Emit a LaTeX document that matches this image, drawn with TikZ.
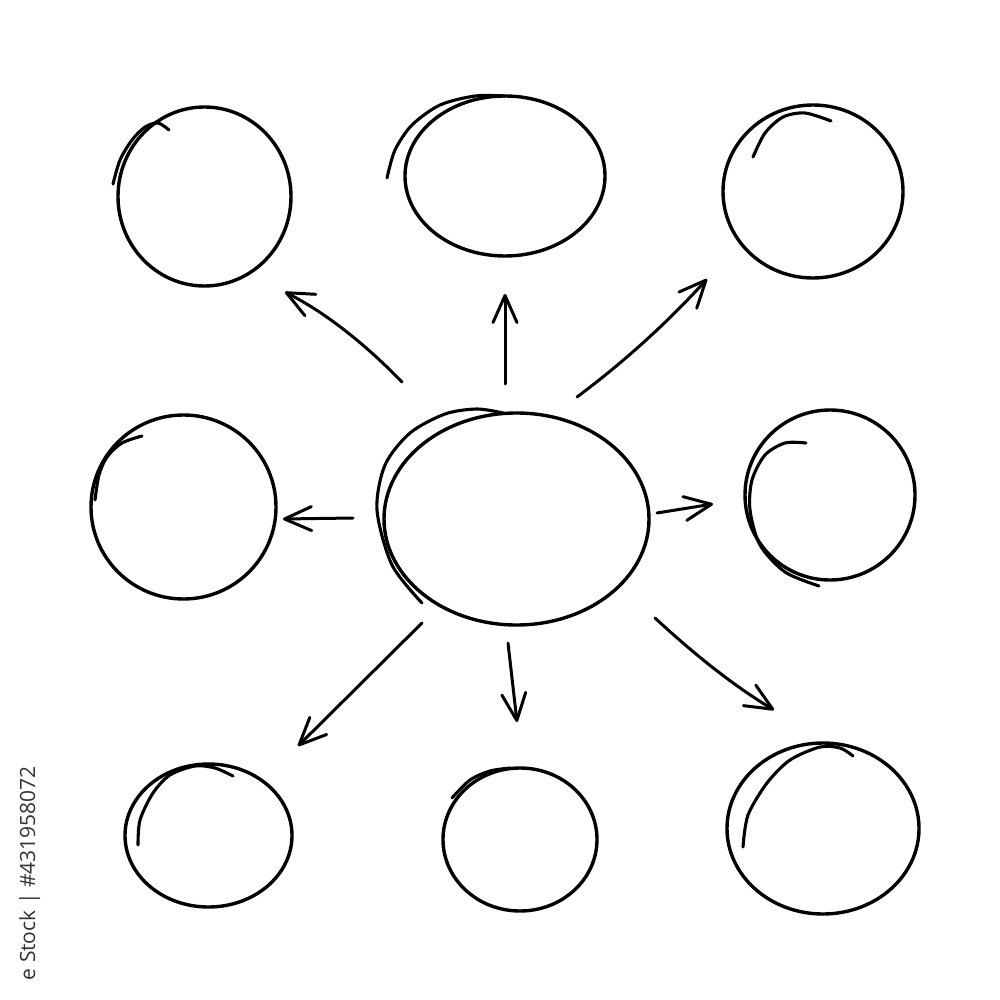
\documentclass[tikz,border=0pt]{standalone}
\usepackage{fontspec}
\newfontfamily\idfont{Open Sans}
\usetikzlibrary{shapes.geometric,arrows.meta}
\begin{document}
\begin{tikzpicture}[x=1pt,y=-1pt,
  blob/.style={ellipse, draw, line width=3.4pt, inner sep=0pt},
  sketch/.style={line width=3.1pt, line cap=round},
  arr/.style={line width=3pt, line cap=round, -{Straight Barb[length=27pt,width=24pt,round]}}]
\useasboundingbox (0,0) rectangle (1000,1000);
\fill[white] (0,0) rectangle (1000,1000);

% ---- shapes ----
\node[blob, minimum width=173pt, minimum height=179pt] (tl) at (204.5,196.5) {};
\node[blob, minimum width=200pt, minimum height=160pt] (tm) at (505,176) {};
\node[blob, minimum width=180pt, minimum height=173pt] (tr) at (813,191.5) {};
\node[blob, minimum width=185pt, minimum height=184pt] (ml) at (183.5,507) {};
\node[blob, minimum width=265pt, minimum height=212pt] (c) at (516.5,519) {};
\node[blob, minimum width=170pt, minimum height=170pt] (mr) at (830,495) {};
\node[blob, minimum width=167pt, minimum height=143pt] (bl) at (208.5,835.5) {};
\node[blob, minimum width=154pt, minimum height=143pt] (bm) at (520,839.5) {};
\node[blob, minimum width=192pt, minimum height=171pt] (br) at (823,828.5) {};

% ---- extra sketch strokes ----
\draw[sketch] plot[smooth] coordinates {(113,184) (120,160) (132,140) (145,127) (158,123) (169,130)};
\draw[sketch] plot[smooth] coordinates {(387,178) (395,150) (412,125) (440,105) (475,96) (505,96)};
\draw[sketch] plot[smooth] coordinates {(753,157) (765,133) (783,117) (805,113) (831,121)};
\draw[sketch] plot[smooth] coordinates {(95,500) (99,475) (107,457) (122,443) (142,436)};
\draw[sketch] plot[smooth] coordinates {(422,603) (392,565) (377,510) (385,465) (410,433) (445,414) (477,409) (503,413)};
\draw[sketch] plot[smooth] coordinates {(806,443) (785,443) (765,455) (752,480) (750,510) (760,545) (785,572) (819,586)};
\draw[sketch] plot[smooth] coordinates {(138,845) (140,820) (153,793) (170,775) (195,766) (215,768) (233,776)};
\draw[sketch] plot[smooth] coordinates {(452,798) (470,780) (490,771) (510,768)};
\draw[sketch] plot[smooth] coordinates {(743,847) (748,815) (767,783) (790,760) (820,747) (840,748) (853,756)};

% ---- arrow end points ----
\coordinate (aTLs) at (402,382);  \coordinate (aTLe) at (285,292);
\coordinate (aTs)  at (505,384);  \coordinate (aTe)  at (505,294);
\coordinate (aTRs) at (577,397);  \coordinate (aTRe) at (707,279);
\coordinate (aLs)  at (353,518);  \coordinate (aLe)  at (283,519);
\coordinate (aRs)  at (657,513);  \coordinate (aRe)  at (713,504);
\coordinate (aBLs) at (422,623);  \coordinate (aBLe) at (298,746);
\coordinate (aBs)  at (508,643);  \coordinate (aBe)  at (517,722);
\coordinate (aBRs) at (655,618);  \coordinate (aBRe) at (774,710);

% ---- arrows ----
\draw[arr] (aTLs) .. controls (367,346) and (328,314) .. (aTLe);
\draw[arr] (aTs) -- (aTe);
\draw[arr] (aTRs) .. controls (624,362) and (668,322) .. (aTRe);
\draw[arr] (aLs) -- (aLe);
\draw[arr] (aRs) -- (aRe);
\draw[arr] (aBLs) -- (aBLe);
\draw[arr] (aBs) -- (aBe);
\draw[arr] (aBRs) .. controls (695,655) and (734,686) .. (aBRe);

% ---- stock id ----
\node[rotate=90, anchor=base east, inner sep=0pt, text=black!80, font=\idfont\fontsize{21}{24}\selectfont] (id) at (35,766) {e Stock | \#431958072};
\end{tikzpicture}
\end{document}
